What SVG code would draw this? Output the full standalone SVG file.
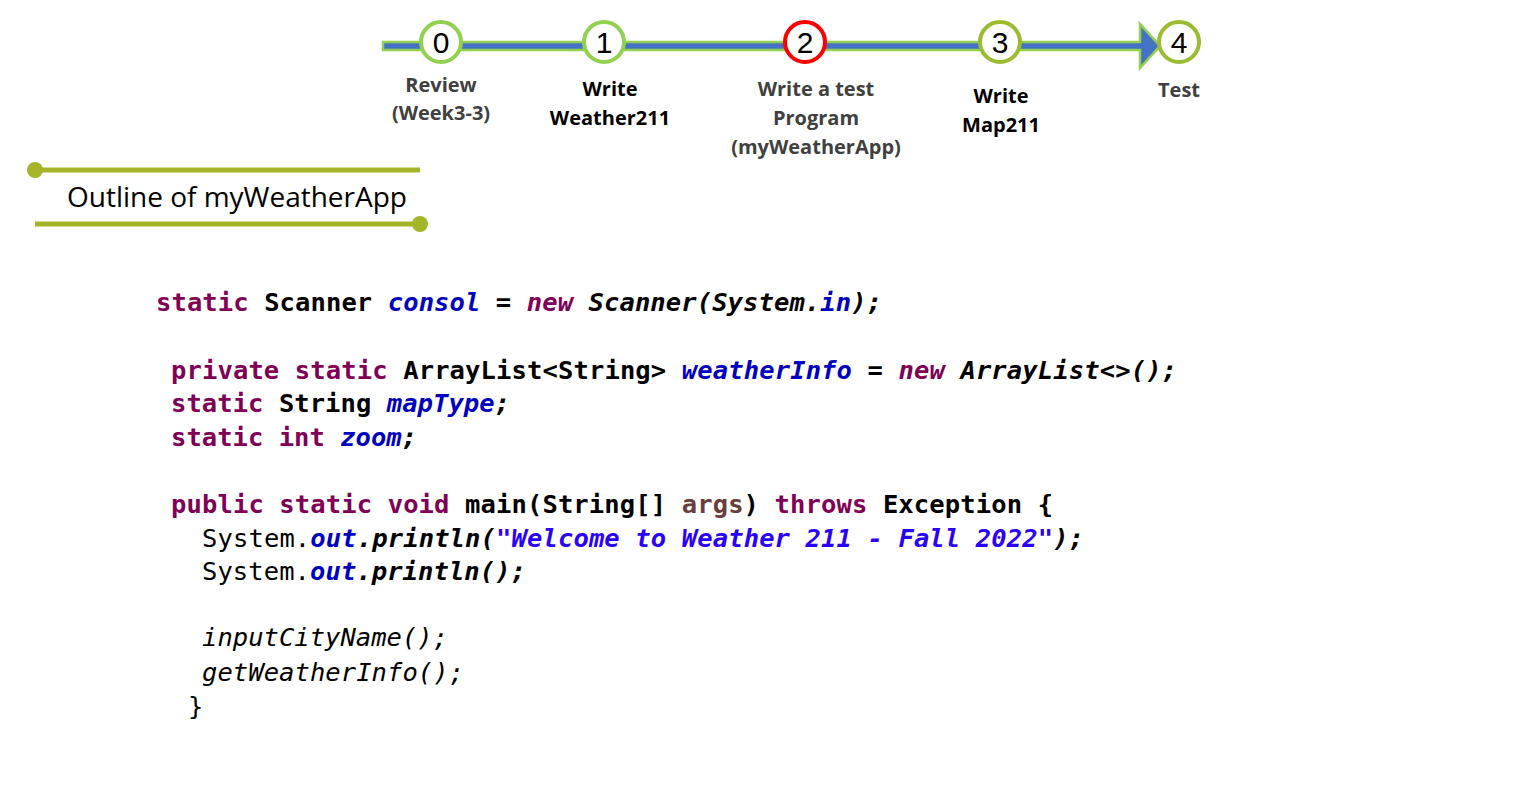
<svg xmlns="http://www.w3.org/2000/svg" width="1519" height="785" viewBox="0 0 1519 785">
<style>
.lb{font-family:"Open Sans","Liberation Sans",sans-serif;font-weight:bold;font-size:20px;text-anchor:middle}
.g{fill:#404040}.k{fill:#000}
.n{font-family:"Liberation Sans",sans-serif;font-size:30px;text-anchor:middle;fill:#000}
.c{font-family:"DejaVu Sans Mono","Liberation Mono",monospace;font-size:25.5px;font-weight:bold;fill:#000;white-space:pre}
.kw{fill:#7F0055}.f{fill:#0000C0;font-style:italic}.s{fill:#2A00FF;font-style:italic}.i{font-style:italic}.a{fill:#6A3E3E}
</style>
<rect width="1519" height="785" fill="#fff"/>
<g id="connectors">
<path d="M383,42 H1140 V24 L1160,46 L1140,68 V50 H383 Z" fill="#4472C4" stroke="#92D050" stroke-width="2.5"/>
</g>
<g id="n0"><circle cx="441" cy="42" r="20" fill="#fff" stroke="#92D050" stroke-width="4"/><text class="n" x="441" y="53">0</text>
<text class="lb g" x="441" y="92">Review</text><text class="lb g" x="441" y="120">(Week3-3)</text></g>
<g id="n1"><circle cx="604" cy="42" r="20" fill="#fff" stroke="#92D050" stroke-width="4"/><text class="n" x="604" y="53">1</text>
<text class="lb k" x="610" y="96">Write</text><text class="lb k" x="610" y="125">Weather211</text></g>
<g id="n2"><circle cx="805" cy="42" r="20" fill="#fff" stroke="#FF0000" stroke-width="4"/><text class="n" x="805" y="53">2</text>
<text class="lb g" x="816" y="96">Write a test</text><text class="lb g" x="816" y="125">Program</text><text class="lb g" x="816" y="154">(myWeatherApp)</text></g>
<g id="n3"><circle cx="1000" cy="42" r="20" fill="#fff" stroke="#9BBB30" stroke-width="4"/><text class="n" x="1000" y="53">3</text>
<text class="lb k" x="1001" y="103">Write</text><text class="lb k" x="1001" y="132">Map211</text></g>
<g id="n4"><circle cx="1179" cy="42" r="20" fill="#fff" stroke="#9BBB30" stroke-width="4"/><text class="n" x="1179" y="53">4</text>
<text class="lb g" x="1179" y="97">Test</text></g>
<g id="title">
<line x1="35" y1="170" x2="420" y2="170" stroke="#A5B52A" stroke-width="5"/><circle cx="35" cy="170" r="8" fill="#A5B52A"/>
<line x1="35" y1="224" x2="420" y2="224" stroke="#A5B52A" stroke-width="5"/><circle cx="420" cy="224" r="8" fill="#A5B52A"/>
<text x="67" y="207" font-family="'Open Sans','Liberation Sans',sans-serif" font-size="28" textLength="340">Outline of myWeatherApp</text>
</g>
<g id="code" class="c">
<text x="156" y="311" textLength="726"><tspan class="kw">static</tspan> Scanner <tspan class="f">consol</tspan> = <tspan class="kw i">new</tspan> <tspan class="i">Scanner(System.</tspan><tspan class="f">in</tspan><tspan class="i">);</tspan></text>
<text x="171" y="379" textLength="1006"><tspan class="kw">private</tspan> <tspan class="kw">static</tspan> ArrayList&lt;String&gt; <tspan class="f">weatherInfo</tspan> = <tspan class="kw i">new</tspan> <tspan class="i">ArrayList&lt;&gt;();</tspan></text>
<text x="171" y="412" textLength="339"><tspan class="kw">static</tspan> String <tspan class="f">mapType</tspan><tspan class="i">;</tspan></text>
<text x="171" y="446" textLength="246"><tspan class="kw">static</tspan> <tspan class="kw">int</tspan> <tspan class="f">zoom</tspan><tspan class="i">;</tspan></text>
<text x="171" y="513" textLength="882"><tspan class="kw">public</tspan> <tspan class="kw">static</tspan> <tspan class="kw">void</tspan> main(String[] <tspan class="a">args</tspan>) <tspan class="kw">throws</tspan> Exception {</text>
<text x="202" y="547" textLength="882"><tspan font-weight="normal">System.</tspan><tspan class="f">out</tspan><tspan class="i">.println(</tspan><tspan class="s">"Welcome to Weather 211 - Fall 2022"</tspan><tspan class="i">);</tspan></text>
<text x="202" y="580" textLength="324"><tspan font-weight="normal">System.</tspan><tspan class="f">out</tspan><tspan class="i">.println();</tspan></text>
<text x="202" y="646" font-weight="normal" font-style="italic" textLength="246">inputCityName();</text>
<text x="202" y="681" font-weight="normal" font-style="italic" textLength="262">getWeatherInfo();</text>
<text x="188" y="715" font-weight="normal">}</text>
</g>
</svg>
